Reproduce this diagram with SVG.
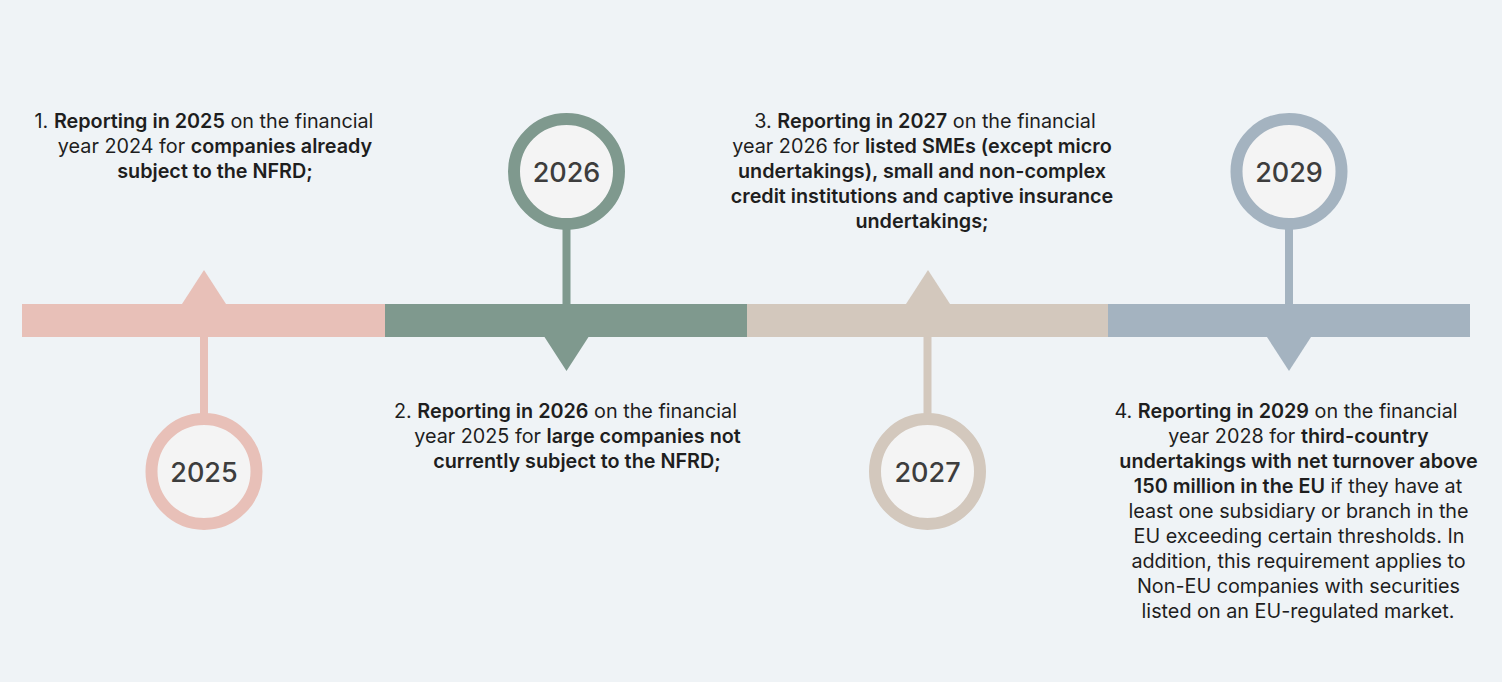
<svg xmlns="http://www.w3.org/2000/svg" width="1502" height="682" viewBox="0 0 1502 682">
<style>
.bg{fill:#EFF3F6}
.yr{font-family:Inter,"Noto Sans","Liberation Sans",sans-serif;font-size:27px;font-weight:500;fill:#3d3d3d;text-anchor:middle}
.t{font-family:Inter,"Noto Sans","Liberation Sans",sans-serif;font-size:19.8px;fill:#1e1e1e;text-anchor:middle}
.b{font-weight:600}
.disc{fill:#F4F4F4;stroke-width:12}
</style>
<rect class="bg" x="0" y="0" width="1502" height="682"/>
<g id="connectors">
  <rect x="22" y="304" width="364" height="33" fill="#E8C0B8"/>
  <rect x="385" y="304" width="363" height="33" fill="#7F998E"/>
  <rect x="747" y="304" width="362" height="33" fill="#D3C8BD"/>
  <rect x="1108" y="304" width="362" height="33" fill="#A4B3C0"/>
  <polygon points="182,304 204,270 226,304" fill="#E8C0B8"/>
  <polygon points="544.5,337 566.5,371 588.5,337" fill="#7F998E"/>
  <polygon points="906,304 928,270 950,304" fill="#D3C8BD"/>
  <polygon points="1267,337 1289,371 1311,337" fill="#A4B3C0"/>
  <rect x="200" y="336" width="8" height="80" fill="#E8C0B8"/>
  <rect x="562.5" y="226" width="8" height="79" fill="#7F998E"/>
  <rect x="923.5" y="336" width="8" height="80" fill="#D3C8BD"/>
  <rect x="1285" y="226" width="8" height="79" fill="#A4B3C0"/>
</g>
<g id="node-2025">
  <circle class="disc" cx="204" cy="471.5" r="52.5" stroke="#E8C0B8"/>
  <text class="yr" x="204" y="481.5">2025</text>
</g>
<g id="node-2026">
  <circle class="disc" cx="566.5" cy="171.5" r="52.5" stroke="#7F998E"/>
  <text class="yr" x="566.5" y="181.5">2026</text>
</g>
<g id="node-2027">
  <circle class="disc" cx="927.5" cy="471.5" r="52.5" stroke="#D3C8BD"/>
  <text class="yr" x="927.5" y="481.5">2027</text>
</g>
<g id="node-2029">
  <circle class="disc" cx="1289" cy="171.5" r="52.5" stroke="#A4B3C0"/>
  <text class="yr" x="1289" y="181.5">2029</text>
</g>
<g id="text-1">
  <text class="t" x="204" y="128">1. <tspan class="b">Reporting in 2025</tspan> on the financial</text>
  <text class="t" x="215" y="153">year 2024 for <tspan class="b">companies already</tspan></text>
  <text class="t" x="215" y="178"><tspan class="b">subject to the NFRD;</tspan></text>
</g>
<g id="text-2">
  <text class="t" x="565.5" y="418">2. <tspan class="b">Reporting in 2026</tspan> on the financial</text>
  <text class="t" x="577.5" y="443">year 2025 for <tspan class="b">large companies not</tspan></text>
  <text class="t" x="577" y="468"><tspan class="b">currently subject to the NFRD;</tspan></text>
</g>
<g id="text-3">
  <text class="t" x="925" y="128">3. <tspan class="b">Reporting in 2027</tspan> on the financial</text>
  <text class="t" x="922" y="153">year 2026 for <tspan class="b">listed SMEs (except micro</tspan></text>
  <text class="t" x="922" y="178"><tspan class="b">undertakings), small and non-complex</tspan></text>
  <text class="t" x="922" y="203"><tspan class="b">credit institutions and captive insurance</tspan></text>
  <text class="t" x="922" y="228"><tspan class="b">undertakings;</tspan></text>
</g>
<g id="text-4">
  <text class="t" x="1286" y="418">4. <tspan class="b">Reporting in 2029</tspan> on the financial</text>
  <text class="t" x="1298.5" y="443">year 2028 for <tspan class="b">third-country</tspan></text>
  <text class="t" x="1298.5" y="468"><tspan class="b">undertakings with net turnover above</tspan></text>
  <text class="t" x="1298" y="493"><tspan class="b">150 million in the EU</tspan> if they have at</text>
  <text class="t" x="1298.5" y="518">least one subsidiary or branch in the</text>
  <text class="t" x="1299" y="543">EU exceeding certain thresholds. In</text>
  <text class="t" x="1298.5" y="568">addition, this requirement applies to</text>
  <text class="t" x="1298.5" y="593">Non-EU companies with securities</text>
  <text class="t" x="1298" y="618">listed on an EU-regulated market.</text>
</g>
</svg>
